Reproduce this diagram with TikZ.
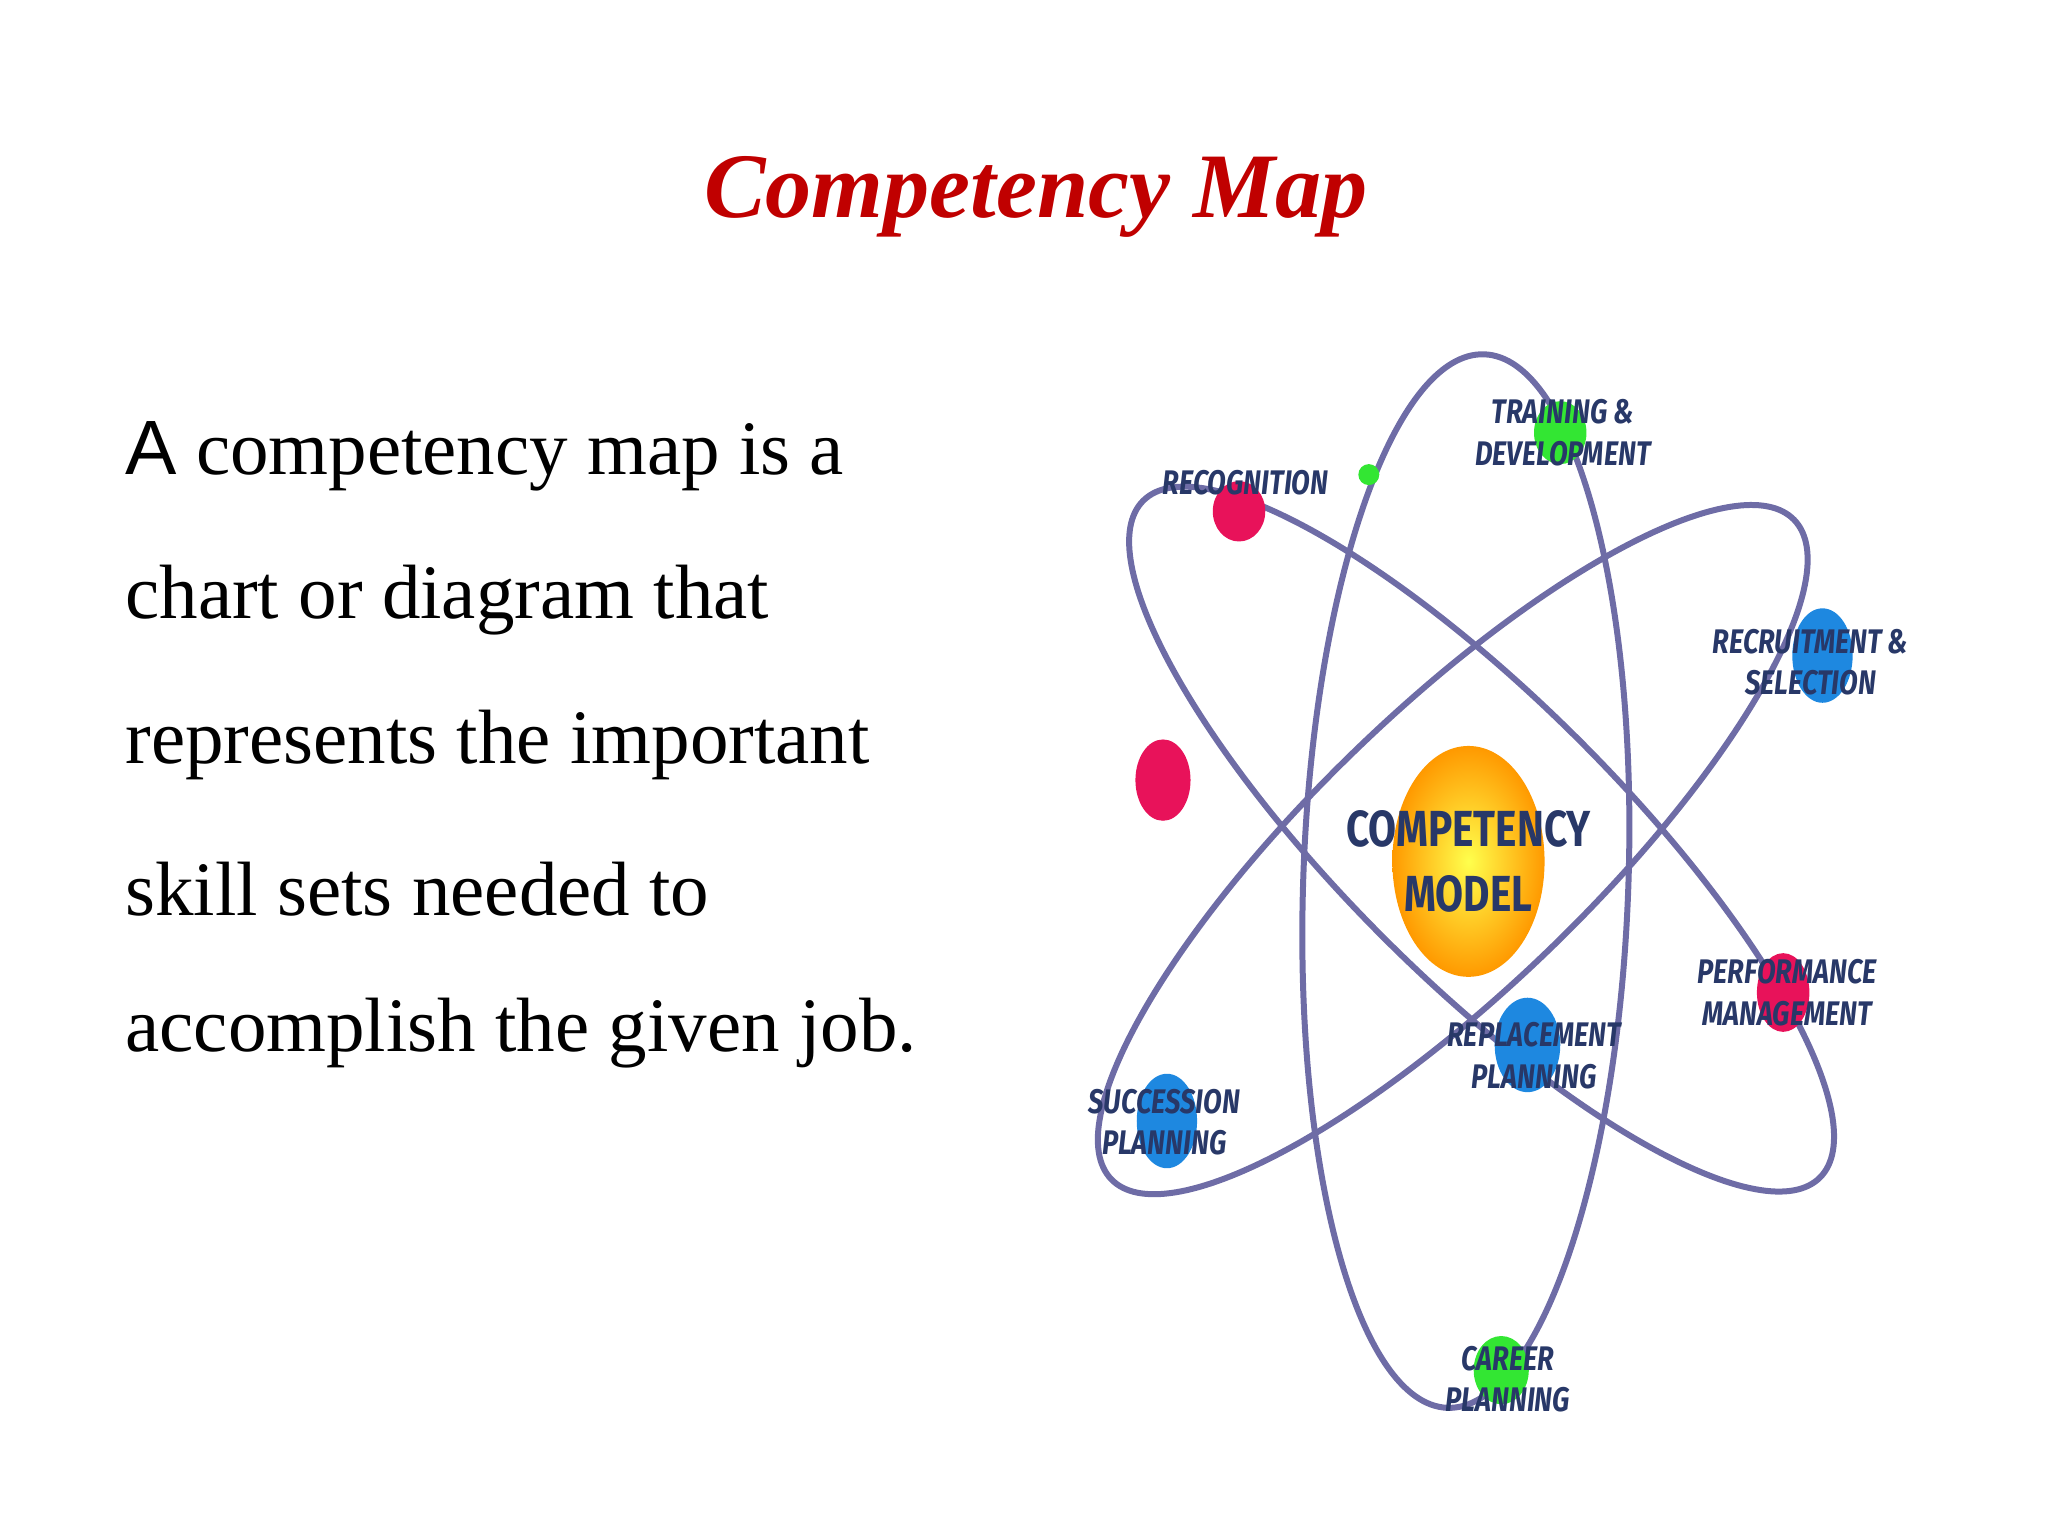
\documentclass[tikz,border=0pt]{standalone}
\usepackage{fontspec}
\setmainfont{Liberation Serif}
\newfontfamily\lblfont{Fira Sans}
\newfontfamily\asans{Liberation Sans}
\usetikzlibrary{shapes.geometric}
\definecolor{orbitc}{HTML}{6E6CA6}
\definecolor{lblc}{HTML}{283868}
\definecolor{dred}{HTML}{C00000}
\definecolor{pinkr}{HTML}{E8125A}
\definecolor{gr}{HTML}{33E633}
\definecolor{bl}{HTML}{1E88E0}
\tikzset{
 orbit/.style={draw=orbitc,line width=1.3pt},
 dot/.style={ellipse,inner sep=0pt,draw=none},
 lbl/.style={text=lblc,font=\lblfont\bfseries\itshape\fontsize{7.4}{9}\selectfont,align=center,xscale=0.8},
 body/.style={anchor=west,inner sep=0pt,font=\fontsize{16.7}{16.7}\selectfont}
}
\begin{document}
\begin{tikzpicture}[x=0.01cm,y=-0.01cm]
\useasboundingbox (0,0) rectangle (1562,1171);
\node[font=\itshape\bfseries\fontsize{20}{24}\selectfont,text=dred] (title) at (790,150) {Competency Map};
\node[body] (l1) at (95,348) {{\asans A} competency map is a};
\node[body] (l2) at (95,458) {chart or diagram that};
\node[body] (l3) at (95,568) {represents the important};
\node[body] (l4) at (95,678) {skill sets needed to};
\node[body] (l5) at (95,788) {accomplish the given job.};
\coordinate (c1) at (1118,672);
\coordinate (c2) at (1108,648);
\coordinate (c3) at (1130,640);
\draw[orbit,rotate around={-2:(c1)}] (c1) ellipse [x radius=124,y radius=402];
\draw[orbit,rotate around={44:(c2)}] (c2) ellipse [x radius=362,y radius=106];
\draw[orbit,rotate around={-45:(c3)}] (c3) ellipse [x radius=365,y radius=106];
\node[dot,fill=pinkr,minimum width=0.40cm,minimum height=0.46cm] (rec) at (945,390) {};
\node[dot,fill=pinkr,minimum width=0.42cm,minimum height=0.62cm] (red2) at (887,595) {};
\node[dot,fill=gr,minimum width=0.16cm,minimum height=0.16cm] (gsmall) at (1044,362) {};
\node[dot,fill=gr,minimum width=0.40cm,minimum height=0.48cm] (train) at (1190,330) {};
\node[dot,fill=bl,minimum width=0.46cm,minimum height=0.72cm] (recr) at (1390,500) {};
\node[dot,fill=pinkr,minimum width=0.40cm,minimum height=0.60cm] (perf) at (1360,757) {};
\node[dot,fill=bl,minimum width=0.50cm,minimum height=0.72cm] (repl) at (1165,797) {};
\node[dot,fill=bl,minimum width=0.46cm,minimum height=0.72cm] (succ) at (890,855) {};
\node[dot,fill=gr,minimum width=0.42cm,minimum height=0.52cm] (career) at (1145,1045) {};
\node[dot,shading=radial,inner color=yellow!70!white,outer color=orange!80!yellow,minimum width=1.16cm,minimum height=1.76cm] (core) at (1120,657) {};
\node[text=lblc,font=\lblfont\bfseries\fontsize{11}{14}\selectfont,align=center,xscale=0.8] (corel) at (core) {COMPETENCY\\MODEL};
\node[lbl] at (950,368) {RECOGNITION};
\node[lbl] at (1192,330) {TRAINING \&\\DEVELOPMENT};
\node[lbl] at (1381,505) {RECRUITMENT \&\\SELECTION};
\node[lbl] at (1363,757) {PERFORMANCE\\MANAGEMENT};
\node[lbl] at (1170,805) {REPLACEMENT\\PLANNING};
\node[lbl] at (888,856) {SUCCESSION\\PLANNING};
\node[lbl] at (1150,1052) {CAREER\\PLANNING};
\end{tikzpicture}
\end{document}
